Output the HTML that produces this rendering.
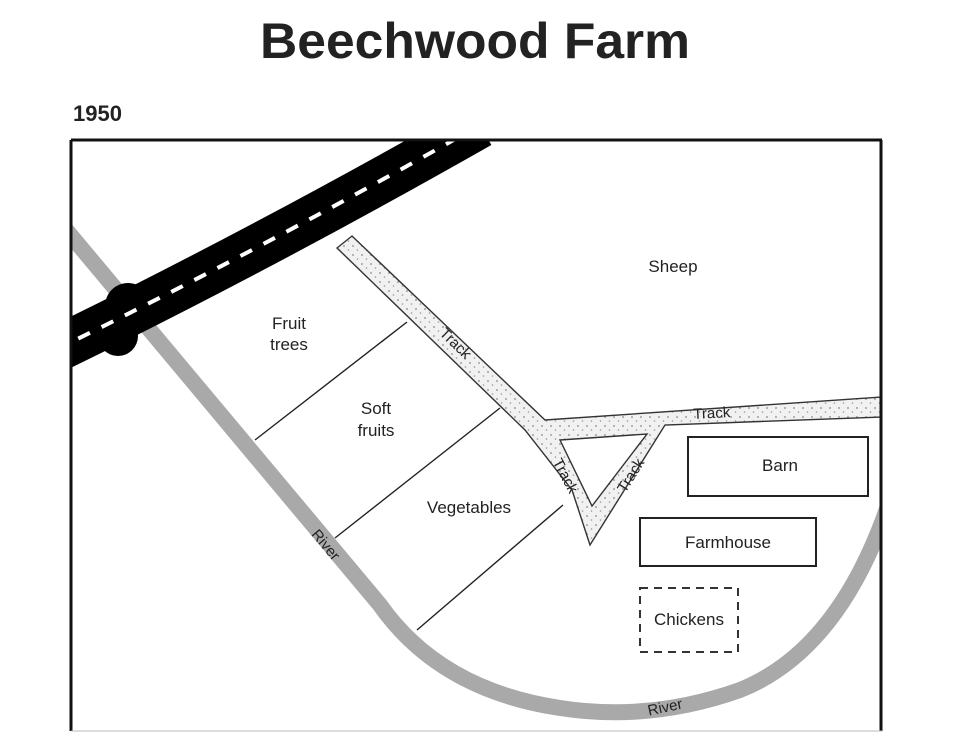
<!DOCTYPE html>
<html><head><meta charset="utf-8"><style>
html,body{margin:0;padding:0;background:#fff;}
svg{display:block;}
text{font-family:"Liberation Sans",sans-serif;fill:#222;}
</style></head><body>
<svg width="975" height="756" viewBox="0 0 975 756" xmlns="http://www.w3.org/2000/svg">
<defs>
<pattern id="dots" width="9" height="9" patternUnits="userSpaceOnUse">
<rect width="9" height="9" fill="#f1f1f1"/>
<circle cx="2" cy="3" r="0.9" fill="#888"/>
<circle cx="6.5" cy="7" r="0.8" fill="#999"/>
</pattern>
<clipPath id="frame"><rect x="71" y="141" width="810" height="590"/></clipPath>
</defs>
<text x="260" y="58" font-size="50" font-weight="bold" textLength="430" lengthAdjust="spacingAndGlyphs">Beechwood Farm</text>
<text x="73" y="121" font-size="22" font-weight="bold">1950</text>

<g clip-path="url(#frame)">
<!-- river -->
<path d="M 62 225 L 380 605 Q 440 690 560 708 Q 650 722 740 690 Q 840 650 890 500" fill="none" stroke="#a9a9a9" stroke-width="16"/>
<!-- field lines -->
<g stroke="#222" stroke-width="1.4">
<line x1="255" y1="440" x2="407" y2="322"/>
<line x1="335" y1="538" x2="500" y2="408"/>
<line x1="417" y1="630" x2="563" y2="505"/>
</g>
<!-- tracks -->
<path d="M 337 248 L 352 236 L 545 420 L 882 397 L 882 417 L 665 425 L 590 545 L 572 490 L 525 430 Z" fill="url(#dots)" stroke="#333" stroke-width="1.4"/>
<path d="M 560 440 L 647 434 L 592 506 Z" fill="#fff" stroke="#333" stroke-width="1.4"/>
<!-- road -->
<path d="M 55 350 Q 260 250 480 125" fill="none" stroke="#000" stroke-width="46"/>
<circle cx="128" cy="306" r="23" fill="#000"/>
<circle cx="118" cy="336" r="20" fill="#000"/>
<path d="M 55 350 Q 260 250 480 125" fill="none" stroke="#fff" stroke-width="4" stroke-dasharray="13 13"/>
</g>
<!-- frame -->
<line x1="71" y1="140" x2="882" y2="140" stroke="#111" stroke-width="3"/>
<line x1="71" y1="140" x2="71" y2="731" stroke="#111" stroke-width="3"/>
<line x1="881" y1="140" x2="881" y2="731" stroke="#111" stroke-width="3"/>
<line x1="71" y1="731" x2="882" y2="731" stroke="#bbb" stroke-width="1"/>

<!-- labels -->
<g font-size="17" text-anchor="middle">
<text x="673" y="272">Sheep</text>
<text x="289" y="329">Fruit</text>
<text x="289" y="350">trees</text>
<text x="376" y="414">Soft</text>
<text x="376" y="436">fruits</text>
<text x="469" y="513">Vegetables</text>
<text x="780" y="471">Barn</text>
<text x="728" y="548">Farmhouse</text>
<text x="689" y="625">Chickens</text>
</g>
<g font-size="15" text-anchor="middle">
<text transform="translate(452,347) rotate(44)">Track</text>
<text transform="translate(712,418) rotate(-3)">Track</text>
<text transform="translate(561,478) rotate(62)">Track</text>
<text transform="translate(635,478) rotate(-58)">Track</text>
<text transform="translate(322,548) rotate(50)">River</text>
<text transform="translate(666,712) rotate(-12)">River</text>
</g>
<rect x="688" y="437" width="180" height="59" fill="none" stroke="#222" stroke-width="2"/>
<rect x="640" y="518" width="176" height="48" fill="none" stroke="#222" stroke-width="2"/>
<rect x="640" y="588" width="98" height="64" fill="none" stroke="#333" stroke-width="2" stroke-dasharray="8 6"/>
</svg>
</body></html>
